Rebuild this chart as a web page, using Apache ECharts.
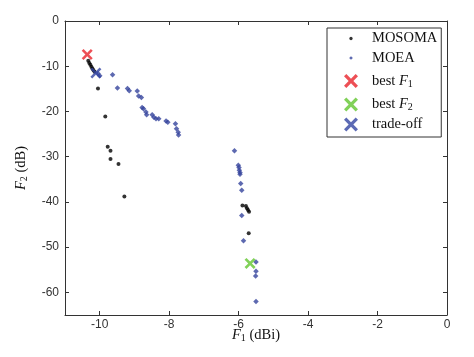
<!DOCTYPE html>
<html>
<head>
<meta charset="utf-8">
<script src="https://cdn.jsdelivr.net/npm/echarts@6/dist/echarts.min.js"></script>
<style>html,body{margin:0;padding:0;background:#fff}#c{width:474px;height:357px}</style>
</head>
<body>
<div id="c"></div>
<script>
// ---- data ----
var mosomaF1 = [-10.33, -10.30, -10.27, -10.24, -10.21, -10.18, -10.15, -10.05, -9.84, -9.77, -9.69, -9.69, -9.46, -9.29, -5.89, -5.79, -5.76, -5.73, -5.70, -5.71];
var mosomaF2 = [-8.8, -9.3, -9.7, -10.1, -10.5, -10.9, -11.2, -14.9, -21.1, -27.8, -28.7, -30.5, -31.6, -38.8, -40.8, -40.9, -41.4, -41.8, -42.2, -46.9];
var moeaF1 = [-10.05, -10.0, -9.63, -9.49, -9.20, -9.15, -8.92, -8.88, -8.80, -8.78, -8.74, -8.67, -8.65, -8.49, -8.44, -8.38, -8.30, -8.09, -8.04, -7.82, -7.79, -7.74, -7.73, -6.12, -6.01, -5.99, -5.98, -5.96, -5.96, -5.94, -5.91, -5.91, -5.86, -5.50, -5.50, -5.51, -5.50];
var moeaF2 = [-11.6, -12.1, -11.9, -14.8, -14.9, -15.4, -15.5, -16.6, -16.9, -19.1, -19.4, -20.1, -20.7, -20.7, -21.3, -21.6, -21.6, -22.1, -22.4, -22.7, -23.8, -24.6, -25.2, -28.7, -31.9, -32.4, -33.0, -33.5, -33.9, -35.9, -37.4, -43.0, -48.6, -53.3, -55.3, -56.4, -62.0];
var bestF1 = [-10.36, -7.4];
var bestF2 = [-5.67, -53.6];
var tradeOff = [-10.11, -11.5];
var xTicks = [-10, -8, -6, -4, -2, 0];
var yTicks = [0, -10, -20, -30, -40, -50, -60];
var seriesNames = ['MOSOMA', 'MOEA', 'best F1', 'best F2', 'trade-off'];

function zip(a, b) { return a.map(function (v, i) { return [v, b[i]]; }); }

var X_PATH = 'path://M0,2 L2,0 L6,4 L10,0 L12,2 L8,6 L12,10 L10,12 L6,8 L2,12 L0,10 L4,6 Z';
var DOT_ICON = 'path://M0,0 M12,12 M6,4.6 A1.4,1.4 0 1 1 6,7.4 A1.4,1.4 0 1 1 6,4.6 Z';
var DIA_ICON = 'path://M0,0 M12,12 M6,4.4 L7.6,6 L6,7.6 L4.4,6 Z';
var SERIF = '"Liberation Serif", "Times New Roman", serif';
var SANS = '"Liberation Sans", Arial, sans-serif';

var richCommon = {
  t: { fontFamily: SERIF, fontSize: 14.5, color: '#111', lineHeight: 16 },
  b: { fontFamily: SERIF, fontSize: 14.5, color: '#111', lineHeight: 16, padding: [0, 0, 0, 9] },
  i: { fontFamily: SERIF, fontSize: 14.5, color: '#111', fontStyle: 'italic', lineHeight: 16 },
  s: { fontFamily: SERIF, fontSize: 10, color: '#111', lineHeight: 10, padding: [9, 0, 0, 0], verticalAlign: 'bottom' }
};

var chart = echarts.init(document.getElementById('c'), null, { renderer: 'canvas' });
var axisLineStyle = { color: '#333', width: 1 };
function xAxisDef(pos, show) {
  return {
    type: 'value', position: pos, min: -11, max: 0,
    axisLine: { show: true, onZero: false, lineStyle: axisLineStyle },
    axisTick: { show: true, inside: true, length: 4, customValues: xTicks, lineStyle: axisLineStyle },
    axisLabel: { show: show, customValues: xTicks, margin: 4, fontFamily: SANS, fontSize: 12, color: '#333' },
    splitLine: { show: false }
  };
}
function yAxisDef(pos, show) {
  return {
    type: 'value', position: pos, min: -65, max: 0,
    axisLine: { show: true, onZero: false, lineStyle: axisLineStyle },
    axisTick: { show: true, inside: true, length: 4, customValues: yTicks, lineStyle: axisLineStyle },
    axisLabel: { show: show, customValues: yTicks, margin: 6, fontFamily: SANS, fontSize: 12, color: '#333' },
    splitLine: { show: false }
  };
}
var xa = xAxisDef('bottom', true);
xa.name = '{i|F}{s|1}{t| (dBi)}';
xa.nameLocation = 'middle';
xa.nameGap = 12;
xa.nameMoveOverlap = false;
xa.nameTextStyle = { rich: richCommon };
var ya = yAxisDef('left', true);
ya.name = '{i|F}{s|2}{t| (dB)}';
ya.nameLocation = 'middle';
ya.nameGap = 36;
ya.nameRotate = 90;
ya.nameTextStyle = { rich: richCommon };

var option = {
  animation: false,
  grid: { left: 65, right: 27, top: 21, bottom: 42, containLabel: false },
  xAxis: [xa, xAxisDef('top', false)],
  yAxis: [ya, yAxisDef('right', false)],
  legend: {
    orient: 'vertical', left: 327, top: 28,
    padding: [3, 4, 5, 17],
    itemWidth: 14, itemHeight: 14, itemGap: 4.5,
    borderColor: '#333', borderWidth: 1,
    backgroundColor: '#fff',
    selectedMode: false,
    data: [
      { name: seriesNames[0], icon: DOT_ICON },
      { name: seriesNames[1], icon: DIA_ICON },
      { name: seriesNames[2], icon: X_PATH },
      { name: seriesNames[3], icon: X_PATH },
      { name: seriesNames[4], icon: X_PATH }
    ],
    formatter: function (n) {
      if (n === 'best F1') return '{b|best }{i|F}{s|1}';
      if (n === 'best F2') return '{b|best }{i|F}{s|2}';
      return '{b|' + n + '}';
    },
    textStyle: { rich: richCommon }
  },
  series: [
    { name: seriesNames[0], type: 'scatter', data: zip(mosomaF1, mosomaF2), symbol: 'circle', symbolSize: 4, itemStyle: { color: '#000' }, z: 2 },
    { name: seriesNames[1], type: 'scatter', data: zip(moeaF1, moeaF2), symbol: 'diamond', symbolSize: 5.5, itemStyle: { color: '#34449c' }, z: 3 },
    { name: seriesNames[2], type: 'scatter', data: [bestF1], symbol: X_PATH, symbolSize: 11, itemStyle: { color: '#e8232b' }, z: 5 },
    { name: seriesNames[3], type: 'scatter', data: [bestF2], symbol: X_PATH, symbolSize: 11, itemStyle: { color: '#62c630' }, z: 5 },
    { name: seriesNames[4], type: 'scatter', data: [tradeOff], symbol: X_PATH, symbolSize: 11, itemStyle: { color: '#3345a2' }, z: 5 }
  ]
};
chart.setOption(option);
</script>
</body>
</html>
